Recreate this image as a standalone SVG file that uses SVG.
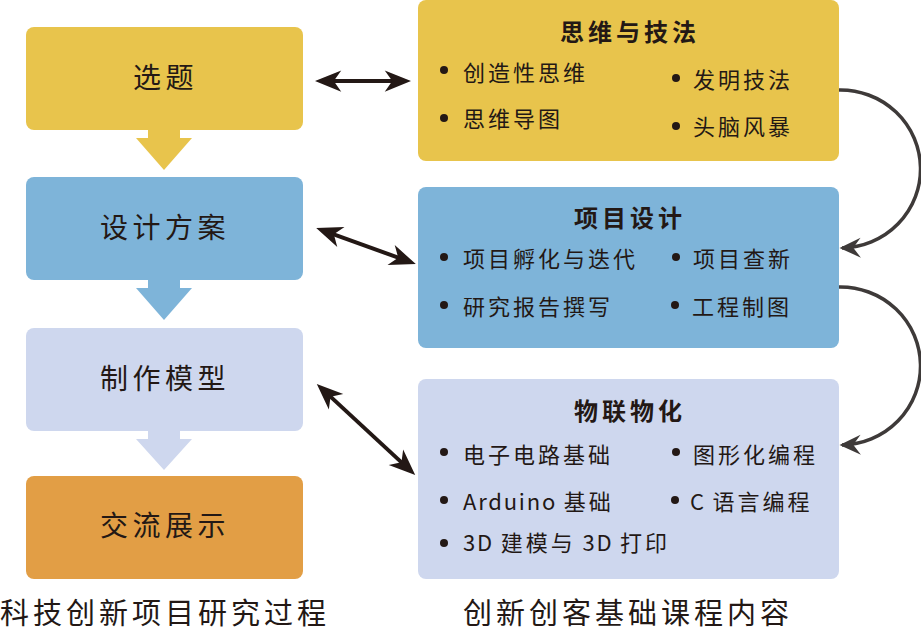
<svg xmlns="http://www.w3.org/2000/svg" width="921" height="632" viewBox="0 0 921 632">
<style>
.t{font-family:"Noto Sans CJK SC","Noto Sans",sans-serif;fill:#231815}
.big{font-size:28px;letter-spacing:4.5px}
.cap{font-size:29px;letter-spacing:4px}
.ttl{font-size:24px;font-weight:bold;letter-spacing:4px}
.it{font-size:22px;letter-spacing:3px}
.lat{letter-spacing:1.8px}
.y{fill:#E8C44C}.b{fill:#7EB4D9}.l{fill:#CED7EE}.o{fill:#E29E45}
.dbl{stroke:#231815;stroke-width:4;fill:none}
.crv{stroke:#3E3A39;stroke-width:3.5;fill:none}
.dot{fill:#231815}
</style>
<defs>
<marker id="ah" markerUnits="userSpaceOnUse" markerWidth="30" markerHeight="30" viewBox="-10 -10 24 20" refX="0" refY="0" orient="auto-start-reverse" overflow="visible">
<path d="M12,0 L-9,-8.5 L-3,0 L-9,8.5 Z" fill="#231815"/>
</marker>
<marker id="ch" markerUnits="userSpaceOnUse" markerWidth="30" markerHeight="30" viewBox="-20 -10 24 20" refX="0" refY="0" orient="auto" overflow="visible">
<path d="M2,0 L-15,-8 L-9,0 L-15,8 Z" fill="#3E3A39"/>
</marker>
</defs>

<g id="n-xuanti"><rect class="y" x="26" y="27" width="277" height="103" rx="8"/><text class="t big" x="133" y="88">选题</text></g>
<g id="n-sheji"><rect class="b" x="26" y="177" width="277" height="103" rx="8"/><text class="t big" x="100" y="238">设计方案</text></g>
<g id="n-zhizuo"><rect class="l" x="26" y="328" width="277" height="103" rx="8"/><text class="t big" x="100" y="389">制作模型</text></g>
<g id="n-jiaoliu"><rect class="o" x="26" y="476" width="277" height="103" rx="8"/><text class="t big" x="100" y="536">交流展示</text></g>

<g id="flow-arrows">
<path class="y" d="M148,130 H180 V138 H192 L164,170 L136,138 H148 Z"/>
<path class="b" d="M148,280 H180 V288 H192 L164,320 L136,288 H148 Z"/>
<path class="l" d="M148,431 H180 V439 H192 L164,470 L136,439 H148 Z"/>
</g>

<g id="n-siwei"><rect class="y" x="418" y="0" width="421" height="161" rx="8"/>
<text class="t ttl" x="560" y="41">思维与技法</text>
<circle class="dot" cx="444" cy="70" r="4"/><text class="t it" x="463" y="81">创造性思维</text>
<circle class="dot" cx="444" cy="118" r="4"/><text class="t it" x="463" y="127">思维导图</text>
<circle class="dot" cx="676" cy="78" r="4"/><text class="t it" x="693" y="88">发明技法</text>
<circle class="dot" cx="676" cy="126" r="4"/><text class="t it" x="693" y="135">头脑风暴</text>
</g>
<g id="n-xiangmu"><rect class="b" x="418" y="187" width="421" height="161" rx="8"/>
<text class="t ttl" x="574" y="227">项目设计</text>
<circle class="dot" cx="444" cy="257" r="4"/><text class="t it" x="463" y="267">项目孵化与迭代</text>
<circle class="dot" cx="444" cy="305" r="4"/><text class="t it" x="463" y="315">研究报告撰写</text>
<circle class="dot" cx="676" cy="257" r="4"/><text class="t it" x="693" y="267">项目查新</text>
<circle class="dot" cx="675" cy="305" r="4"/><text class="t it" x="692" y="315">工程制图</text>
</g>
<g id="n-wulian"><rect class="l" x="418" y="379" width="421" height="200" rx="8"/>
<text class="t ttl" x="574" y="420">物联物化</text>
<circle class="dot" cx="444" cy="452" r="4"/><text class="t it" x="463" y="463">电子电路基础</text>
<circle class="dot" cx="444" cy="500" r="4"/><text class="t it" x="463" y="510"><tspan class="lat">Arduino </tspan>基础</text>
<circle class="dot" cx="444" cy="543" r="4"/><text class="t it" x="463" y="551"><tspan class="lat">3D </tspan>建模与<tspan class="lat"> 3D </tspan>打印</text>
<circle class="dot" cx="676" cy="452" r="4"/><text class="t it" x="693" y="463">图形化编程</text>
<circle class="dot" cx="675" cy="500" r="4"/><text class="t it" x="690" y="510"><tspan class="lat">C </tspan>语言编程</text>
</g>

<g id="connectors">
<line class="dbl" x1="330" y1="81" x2="396" y2="81" marker-start="url(#ah)" marker-end="url(#ah)"/>
<line class="dbl" x1="330.3" y1="233.1" x2="401.7" y2="258.9" marker-start="url(#ah)" marker-end="url(#ah)"/>
<line class="dbl" x1="327.8" y1="394.1" x2="404.2" y2="464.9" marker-start="url(#ah)" marker-end="url(#ah)"/>
<path class="crv" d="M839,90 A80,79 0 0 1 842,248" marker-end="url(#ch)"/>
<path class="crv" d="M839,287 A80,79 0 0 1 842,445" marker-end="url(#ch)"/>
</g>

<text class="t cap" x="0" y="624">科技创新项目研究过程</text>
<text class="t cap" x="463" y="624">创新创客基础课程内容</text>
</svg>
